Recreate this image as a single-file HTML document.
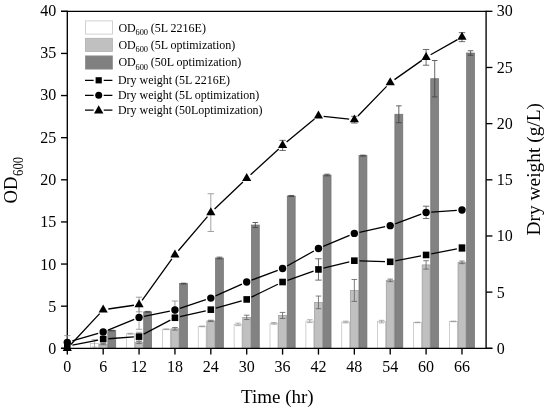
<!DOCTYPE html>
<html><head><meta charset="utf-8"><title>Chart</title>
<style>html,body{margin:0;padding:0;background:#fff}svg{display:block}text{font-family:"Liberation Serif",serif;fill:#000}</style></head><body>
<svg width="550" height="412" viewBox="0 0 550 412">
<rect width="550" height="412" fill="#fff"/>
<g>
<rect x="90.60" y="343.41" width="7.92" height="4.89" fill="#ffffff" stroke="#bcbcbc" stroke-width="0.7"/>
<path d="M94.56 339.62V347.20M91.76 339.62H97.36M91.76 347.20H97.36" stroke="#9a9a9a" stroke-width="0.80" fill="none"/>
<rect x="99.22" y="344.09" width="7.92" height="4.21" fill="#c0c0c0" stroke="#9c9c9c" stroke-width="0.7"/>
<path d="M103.18 343.41V344.76M100.38 343.41H105.98M100.38 344.76H105.98" stroke="#606060" stroke-width="0.80" fill="none"/>
<rect x="107.84" y="330.61" width="7.92" height="17.69" fill="#828282" stroke="#707070" stroke-width="0.7"/>
<path d="M111.80 330.27V330.94M109.00 330.27H114.60M109.00 330.94H114.60" stroke="#404040" stroke-width="0.80" fill="none"/>
<rect x="126.48" y="333.72" width="7.92" height="14.58" fill="#ffffff" stroke="#bcbcbc" stroke-width="0.7"/>
<path d="M130.44 333.30V334.15M127.64 333.30H133.24M127.64 334.15H133.24" stroke="#9a9a9a" stroke-width="0.80" fill="none"/>
<rect x="135.10" y="342.57" width="7.92" height="5.73" fill="#c0c0c0" stroke="#9c9c9c" stroke-width="0.7"/>
<path d="M139.06 341.56V343.58M136.26 341.56H141.86M136.26 343.58H141.86" stroke="#606060" stroke-width="0.80" fill="none"/>
<rect x="143.72" y="311.82" width="7.92" height="36.48" fill="#828282" stroke="#707070" stroke-width="0.7"/>
<path d="M147.68 311.40V312.24M144.88 311.40H150.48M144.88 312.24H150.48" stroke="#404040" stroke-width="0.80" fill="none"/>
<rect x="162.36" y="329.26" width="7.92" height="19.04" fill="#ffffff" stroke="#bcbcbc" stroke-width="0.7"/>
<path d="M166.32 328.92V329.60M163.52 328.92H169.12M163.52 329.60H169.12" stroke="#9a9a9a" stroke-width="0.80" fill="none"/>
<rect x="170.98" y="328.75" width="7.92" height="19.55" fill="#c0c0c0" stroke="#9c9c9c" stroke-width="0.7"/>
<path d="M174.94 327.49V330.02M172.14 327.49H177.74M172.14 330.02H177.74" stroke="#606060" stroke-width="0.80" fill="none"/>
<rect x="179.60" y="283.60" width="7.92" height="64.70" fill="#828282" stroke="#707070" stroke-width="0.7"/>
<path d="M183.56 283.17V284.02M180.76 283.17H186.36M180.76 284.02H186.36" stroke="#404040" stroke-width="0.80" fill="none"/>
<rect x="198.24" y="326.39" width="7.92" height="21.91" fill="#ffffff" stroke="#bcbcbc" stroke-width="0.7"/>
<path d="M202.20 326.06V326.73M199.40 326.06H205.00M199.40 326.73H205.00" stroke="#9a9a9a" stroke-width="0.80" fill="none"/>
<rect x="206.86" y="320.92" width="7.92" height="27.38" fill="#c0c0c0" stroke="#9c9c9c" stroke-width="0.7"/>
<path d="M210.82 320.24V321.59M208.02 320.24H213.62M208.02 321.59H213.62" stroke="#606060" stroke-width="0.80" fill="none"/>
<rect x="215.48" y="257.98" width="7.92" height="90.32" fill="#828282" stroke="#707070" stroke-width="0.7"/>
<path d="M219.44 257.14V258.83M216.64 257.14H222.24M216.64 258.83H222.24" stroke="#404040" stroke-width="0.80" fill="none"/>
<rect x="234.12" y="324.37" width="7.92" height="23.93" fill="#ffffff" stroke="#bcbcbc" stroke-width="0.7"/>
<path d="M238.08 323.11V325.64M235.28 323.11H240.88M235.28 325.64H240.88" stroke="#9a9a9a" stroke-width="0.80" fill="none"/>
<rect x="242.74" y="317.38" width="7.92" height="30.92" fill="#c0c0c0" stroke="#9c9c9c" stroke-width="0.7"/>
<path d="M246.70 315.19V319.57M243.90 315.19H249.50M243.90 319.57H249.50" stroke="#606060" stroke-width="0.80" fill="none"/>
<rect x="251.36" y="225.04" width="7.92" height="123.26" fill="#828282" stroke="#707070" stroke-width="0.7"/>
<path d="M255.32 222.51V227.57M252.52 222.51H258.12M252.52 227.57H258.12" stroke="#404040" stroke-width="0.80" fill="none"/>
<rect x="270.00" y="323.36" width="7.92" height="24.94" fill="#ffffff" stroke="#bcbcbc" stroke-width="0.7"/>
<path d="M273.96 322.52V324.20M271.16 322.52H276.76M271.16 324.20H276.76" stroke="#9a9a9a" stroke-width="0.80" fill="none"/>
<rect x="278.62" y="315.44" width="7.92" height="32.86" fill="#c0c0c0" stroke="#9c9c9c" stroke-width="0.7"/>
<path d="M282.58 312.41V318.48M279.78 312.41H285.38M279.78 318.48H285.38" stroke="#606060" stroke-width="0.80" fill="none"/>
<rect x="287.24" y="195.98" width="7.92" height="152.32" fill="#828282" stroke="#707070" stroke-width="0.7"/>
<path d="M291.20 195.47V196.48M288.40 195.47H294.00M288.40 196.48H294.00" stroke="#404040" stroke-width="0.80" fill="none"/>
<rect x="305.88" y="321.17" width="7.92" height="27.13" fill="#ffffff" stroke="#bcbcbc" stroke-width="0.7"/>
<path d="M309.84 319.74V322.60M307.04 319.74H312.64M307.04 322.60H312.64" stroke="#9a9a9a" stroke-width="0.80" fill="none"/>
<rect x="314.50" y="302.38" width="7.92" height="45.92" fill="#c0c0c0" stroke="#9c9c9c" stroke-width="0.7"/>
<path d="M318.46 296.06V308.70M315.66 296.06H321.26M315.66 308.70H321.26" stroke="#606060" stroke-width="0.80" fill="none"/>
<rect x="323.12" y="175.00" width="7.92" height="173.30" fill="#828282" stroke="#707070" stroke-width="0.7"/>
<path d="M327.08 174.16V175.84M324.28 174.16H329.88M324.28 175.84H329.88" stroke="#404040" stroke-width="0.80" fill="none"/>
<rect x="341.76" y="322.01" width="7.92" height="26.29" fill="#ffffff" stroke="#bcbcbc" stroke-width="0.7"/>
<path d="M345.72 321.17V322.86M342.92 321.17H348.52M342.92 322.86H348.52" stroke="#9a9a9a" stroke-width="0.80" fill="none"/>
<rect x="350.38" y="290.42" width="7.92" height="57.88" fill="#c0c0c0" stroke="#9c9c9c" stroke-width="0.7"/>
<path d="M354.34 279.47V301.37M351.54 279.47H357.14M351.54 301.37H357.14" stroke="#606060" stroke-width="0.80" fill="none"/>
<rect x="359.00" y="155.62" width="7.92" height="192.68" fill="#828282" stroke="#707070" stroke-width="0.7"/>
<path d="M362.96 155.11V156.13M360.16 155.11H365.76M360.16 156.13H365.76" stroke="#404040" stroke-width="0.80" fill="none"/>
<rect x="377.64" y="321.59" width="7.92" height="26.71" fill="#ffffff" stroke="#bcbcbc" stroke-width="0.7"/>
<path d="M381.60 320.33V322.86M378.80 320.33H384.40M378.80 322.86H384.40" stroke="#9a9a9a" stroke-width="0.80" fill="none"/>
<rect x="386.26" y="280.39" width="7.92" height="67.91" fill="#c0c0c0" stroke="#9c9c9c" stroke-width="0.7"/>
<path d="M390.22 279.13V281.66M387.42 279.13H393.02M387.42 281.66H393.02" stroke="#606060" stroke-width="0.80" fill="none"/>
<rect x="394.88" y="114.25" width="7.92" height="234.05" fill="#828282" stroke="#707070" stroke-width="0.7"/>
<path d="M398.84 105.83V122.68M396.04 105.83H401.64M396.04 122.68H401.64" stroke="#404040" stroke-width="0.80" fill="none"/>
<rect x="413.52" y="322.44" width="7.92" height="25.86" fill="#ffffff" stroke="#bcbcbc" stroke-width="0.7"/>
<path d="M417.48 322.18V322.69M414.68 322.18H420.28M414.68 322.69H420.28" stroke="#9a9a9a" stroke-width="0.80" fill="none"/>
<rect x="422.14" y="264.89" width="7.92" height="83.41" fill="#c0c0c0" stroke="#9c9c9c" stroke-width="0.7"/>
<path d="M426.10 260.68V269.10M423.30 260.68H428.90M423.30 269.10H428.90" stroke="#606060" stroke-width="0.80" fill="none"/>
<rect x="430.76" y="78.70" width="7.92" height="269.60" fill="#828282" stroke="#707070" stroke-width="0.7"/>
<path d="M434.72 60.50V96.90M431.92 60.50H437.52M431.92 96.90H437.52" stroke="#404040" stroke-width="0.80" fill="none"/>
<rect x="449.40" y="321.42" width="7.92" height="26.88" fill="#ffffff" stroke="#bcbcbc" stroke-width="0.7"/>
<path d="M453.36 321.17V321.68M450.56 321.17H456.16M450.56 321.68H456.16" stroke="#9a9a9a" stroke-width="0.80" fill="none"/>
<rect x="458.02" y="262.37" width="7.92" height="85.94" fill="#c0c0c0" stroke="#9c9c9c" stroke-width="0.7"/>
<path d="M461.98 261.10V263.63M459.18 261.10H464.78M459.18 263.63H464.78" stroke="#606060" stroke-width="0.80" fill="none"/>
<rect x="466.64" y="53.00" width="7.92" height="295.30" fill="#828282" stroke="#707070" stroke-width="0.7"/>
<path d="M470.60 50.73V55.28M467.80 50.73H473.40M467.80 55.28H473.40" stroke="#404040" stroke-width="0.80" fill="none"/>
</g>
<g stroke="#000" stroke-width="1.35" fill="none" stroke-linecap="butt">
<path d="M61.00 11.30H486.10"/>
<path d="M67.30 10.63V348.97"/>
<path d="M486.10 10.63V348.97"/>
<path d="M61.00 348.30H492.40"/>
<path d="M61.00 348.30H67.30"/>
<path d="M61.00 306.18H67.30"/>
<path d="M61.00 264.05H67.30"/>
<path d="M61.00 221.93H67.30"/>
<path d="M61.00 179.80H67.30"/>
<path d="M61.00 137.67H67.30"/>
<path d="M61.00 95.55H67.30"/>
<path d="M61.00 53.43H67.30"/>
<path d="M61.00 11.30H67.30"/>
<path d="M486.10 348.30H492.40"/>
<path d="M486.10 292.13H492.40"/>
<path d="M486.10 235.97H492.40"/>
<path d="M486.10 179.80H492.40"/>
<path d="M486.10 123.63H492.40"/>
<path d="M486.10 67.47H492.40"/>
<path d="M486.10 11.30H492.40"/>
<path d="M67.30 348.30V354.60"/>
<path d="M103.18 348.30V354.60"/>
<path d="M139.06 348.30V354.60"/>
<path d="M174.94 348.30V354.60"/>
<path d="M210.82 348.30V354.60"/>
<path d="M246.70 348.30V354.60"/>
<path d="M282.58 348.30V354.60"/>
<path d="M318.46 348.30V354.60"/>
<path d="M354.34 348.30V354.60"/>
<path d="M390.22 348.30V354.60"/>
<path d="M426.10 348.30V354.60"/>
<path d="M461.98 348.30V354.60"/>
</g>
<g font-size="16.0">
<text x="56.20" y="353.60" text-anchor="end">0</text>
<text x="56.20" y="312.28" text-anchor="end">5</text>
<text x="56.20" y="269.75" text-anchor="end">10</text>
<text x="56.20" y="227.33" text-anchor="end">15</text>
<text x="56.20" y="185.10" text-anchor="end">20</text>
<text x="56.20" y="142.87" text-anchor="end">25</text>
<text x="56.20" y="100.35" text-anchor="end">30</text>
<text x="56.20" y="58.23" text-anchor="end">35</text>
<text x="56.20" y="15.80" text-anchor="end">40</text>
<text x="496.80" y="353.70">0</text>
<text x="496.80" y="297.53">5</text>
<text x="496.80" y="241.47">10</text>
<text x="496.80" y="185.30">15</text>
<text x="496.80" y="129.03">20</text>
<text x="496.80" y="72.57">25</text>
<text x="496.80" y="15.90">30</text>
<text x="67.30" y="371.60" text-anchor="middle">0</text>
<text x="103.18" y="371.60" text-anchor="middle">6</text>
<text x="139.06" y="371.60" text-anchor="middle">12</text>
<text x="174.94" y="371.60" text-anchor="middle">18</text>
<text x="210.82" y="371.60" text-anchor="middle">24</text>
<text x="246.70" y="371.60" text-anchor="middle">30</text>
<text x="282.58" y="371.60" text-anchor="middle">36</text>
<text x="318.46" y="371.60" text-anchor="middle">42</text>
<text x="354.34" y="371.60" text-anchor="middle">48</text>
<text x="390.22" y="371.60" text-anchor="middle">54</text>
<text x="426.10" y="371.60" text-anchor="middle">60</text>
<text x="461.98" y="371.60" text-anchor="middle">66</text>
</g>
<text x="277.3" y="402.7" font-size="19.0" text-anchor="middle">Time (hr)</text>
<text transform="translate(17.0,203.4) rotate(-90)" font-size="18.6">OD</text>
<text transform="translate(23.0,175.9) rotate(-90) scale(0.93,1)" font-size="13.6">600</text>
<text transform="translate(540.1,169.2) rotate(-90)" font-size="19.4" text-anchor="middle">Dry weight (g/L)</text>
<g>
<path d="M103.18 337.40V340.77M99.98 337.40H106.38M99.98 340.77H106.38" stroke="#4a4a4a" stroke-width="0.80" fill="none"/>
<path d="M139.06 332.24V341.00M135.86 332.24H142.26M135.86 341.00H142.26" stroke="#8c8c8c" stroke-width="0.80" fill="none"/>
<path d="M318.46 258.77V280.11M315.26 258.77H321.66M315.26 280.11H321.66" stroke="#4a4a4a" stroke-width="0.80" fill="none"/>
<path d="M461.98 244.62V251.36M458.78 244.62H465.18M458.78 251.36H465.18" stroke="#4a4a4a" stroke-width="0.80" fill="none"/>
<path d="M67.30 335.61V349.09M64.10 335.61H70.50M64.10 349.09H70.50" stroke="#8c8c8c" stroke-width="0.80" fill="none"/>
<path d="M139.06 305.50V329.32M135.86 305.50H142.26M135.86 329.32H142.26" stroke="#8c8c8c" stroke-width="0.80" fill="none"/>
<path d="M174.94 301.01V318.98M171.74 301.01H178.14M171.74 318.98H178.14" stroke="#8c8c8c" stroke-width="0.80" fill="none"/>
<path d="M426.10 206.20V218.56M422.90 206.20H429.30M422.90 218.56H429.30" stroke="#4a4a4a" stroke-width="0.80" fill="none"/>
<path d="M139.06 297.19V311.79M135.86 297.19H142.26M135.86 311.79H142.26" stroke="#8c8c8c" stroke-width="0.80" fill="none"/>
<path d="M210.82 193.73V231.47M207.62 193.73H214.02M207.62 231.47H214.02" stroke="#8c8c8c" stroke-width="0.80" fill="none"/>
<path d="M282.58 140.37V150.48M279.38 140.37H285.78M279.38 150.48H285.78" stroke="#4a4a4a" stroke-width="0.80" fill="none"/>
<path d="M354.34 116.33V123.07M351.14 116.33H357.54M351.14 123.07H357.54" stroke="#4a4a4a" stroke-width="0.80" fill="none"/>
<path d="M426.10 49.49V65.22M422.90 49.49H429.30M422.90 65.22H429.30" stroke="#4a4a4a" stroke-width="0.80" fill="none"/>
<path d="M461.98 32.64V41.63M458.78 32.64H465.18M458.78 41.63H465.18" stroke="#4a4a4a" stroke-width="0.80" fill="none"/>
</g>
<path d="M72.40 345.16L98.08 340.09M108.37 338.73L133.87 336.97M143.66 334.20L170.34 320.17M180.01 316.60L205.75 310.80M215.82 308.23L241.70 300.86M251.38 297.16L277.90 284.29M287.49 280.30L313.55 271.16M323.51 268.21L349.29 261.91M359.54 260.84L385.02 261.64M395.33 260.83L420.99 255.93M431.20 253.96L456.88 248.98" stroke="#000" stroke-width="1.3" fill="none"/>
<path d="M72.30 340.91L98.18 333.45M108.00 330.05L134.24 319.37M144.15 316.36L169.85 311.05M179.88 308.36L205.88 299.72M215.57 295.96L241.95 284.15M251.57 280.19L277.71 270.37M287.12 266.00L313.92 250.98M323.26 246.42L349.54 235.39M359.42 232.28L385.14 226.73M395.10 223.83L421.22 214.18M431.29 212.04L456.79 210.36" stroke="#000" stroke-width="1.3" fill="none"/>
<path d="M70.84 344.49L99.64 313.58M108.32 309.01L133.92 305.25M142.10 300.27L171.90 258.94M178.31 250.77L207.45 216.56M214.58 209.01L242.94 181.93M250.53 174.82L278.75 148.94M286.59 142.11L314.45 119.08M323.63 116.34L349.17 119.14M357.96 115.97L386.60 86.37M394.47 79.64L421.85 60.35M430.63 54.80L457.45 39.69" stroke="#000" stroke-width="1.3" fill="none"/>
<rect x="64.00" y="342.87" width="6.60" height="6.60" fill="#000"/>
<rect x="99.88" y="335.79" width="6.60" height="6.60" fill="#000"/>
<rect x="135.76" y="333.32" width="6.60" height="6.60" fill="#000"/>
<rect x="171.64" y="314.45" width="6.60" height="6.60" fill="#000"/>
<rect x="207.52" y="306.36" width="6.60" height="6.60" fill="#000"/>
<rect x="243.40" y="296.13" width="6.60" height="6.60" fill="#000"/>
<rect x="279.28" y="278.72" width="6.60" height="6.60" fill="#000"/>
<rect x="315.16" y="266.14" width="6.60" height="6.60" fill="#000"/>
<rect x="351.04" y="257.38" width="6.60" height="6.60" fill="#000"/>
<rect x="386.92" y="258.50" width="6.60" height="6.60" fill="#000"/>
<rect x="422.80" y="251.65" width="6.60" height="6.60" fill="#000"/>
<rect x="458.68" y="244.69" width="6.60" height="6.60" fill="#000"/>
<circle cx="67.30" cy="342.35" r="3.70" fill="#000"/>
<circle cx="103.18" cy="332.01" r="3.70" fill="#000"/>
<circle cx="139.06" cy="317.41" r="3.70" fill="#000"/>
<circle cx="174.94" cy="309.99" r="3.70" fill="#000"/>
<circle cx="210.82" cy="298.09" r="3.70" fill="#000"/>
<circle cx="246.70" cy="282.02" r="3.70" fill="#000"/>
<circle cx="282.58" cy="268.54" r="3.70" fill="#000"/>
<circle cx="318.46" cy="248.44" r="3.70" fill="#000"/>
<circle cx="354.34" cy="233.38" r="3.70" fill="#000"/>
<circle cx="390.22" cy="225.63" r="3.70" fill="#000"/>
<circle cx="426.10" cy="212.38" r="3.70" fill="#000"/>
<circle cx="461.98" cy="210.02" r="3.70" fill="#000"/>
<path d="M67.30 342.99L71.90 350.96L62.70 350.96Z" fill="#000"/>
<path d="M103.18 304.46L107.78 312.43L98.58 312.43Z" fill="#000"/>
<path d="M139.06 299.18L143.66 307.15L134.46 307.15Z" fill="#000"/>
<path d="M174.94 249.41L179.54 257.38L170.34 257.38Z" fill="#000"/>
<path d="M210.82 207.29L215.42 215.26L206.22 215.26Z" fill="#000"/>
<path d="M246.70 173.03L251.30 181.00L242.10 181.00Z" fill="#000"/>
<path d="M282.58 140.11L287.18 148.08L277.98 148.08Z" fill="#000"/>
<path d="M318.46 110.46L323.06 118.43L313.86 118.43Z" fill="#000"/>
<path d="M354.34 114.39L358.94 122.36L349.74 122.36Z" fill="#000"/>
<path d="M390.22 77.32L394.82 85.29L385.62 85.29Z" fill="#000"/>
<path d="M426.10 52.05L430.70 60.01L421.50 60.01Z" fill="#000"/>
<path d="M461.98 31.83L466.58 39.79L457.38 39.79Z" fill="#000"/>
<g>
<rect x="85.4" y="20.90" width="27" height="13.2" fill="#ffffff" stroke="#c6c6c6" stroke-width="0.8"/>
<rect x="85.4" y="38.30" width="27" height="13.2" fill="#c0c0c0" stroke="#b0b0b0" stroke-width="0.8"/>
<rect x="85.4" y="55.90" width="27" height="13.2" fill="#808080" stroke="#8e8e8e" stroke-width="0.8"/>
<text x="118.4" y="31.60" font-size="12.0">OD</text>
<text transform="translate(135.45,34.90) scale(0.915,1)" font-size="9.2">600</text>
<text x="147.7" y="31.60" font-size="12.0" xml:space="preserve"> (5L 2216E)</text>
<text x="118.4" y="48.90" font-size="12.0">OD</text>
<text transform="translate(135.45,52.20) scale(0.915,1)" font-size="9.2">600</text>
<text x="147.7" y="48.90" font-size="12.0" xml:space="preserve"> (5L optimization)</text>
<text x="118.4" y="66.20" font-size="12.0">OD</text>
<text transform="translate(135.45,69.50) scale(0.915,1)" font-size="9.2">600</text>
<text x="147.7" y="66.20" font-size="12.0" xml:space="preserve"> (50L optimization)</text>
<path d="M85 80.30H93.6M103.7 80.30H112.4" stroke="#000" stroke-width="1.3"/>
<text x="118.0" y="83.90" font-size="11.95">Dry weight (5L 2216E)</text>
<path d="M85 95.30H93.6M103.7 95.30H112.4" stroke="#000" stroke-width="1.3"/>
<text x="118.0" y="98.90" font-size="11.95">Dry weight (5L optimization)</text>
<path d="M85 110.20H93.6M103.7 110.20H112.4" stroke="#000" stroke-width="1.3"/>
<text x="118.0" y="113.80" font-size="11.95">Dry weight (50Loptimization)</text>
<rect x="95.60" y="77.20" width="6.20" height="6.20" fill="#000"/>
<circle cx="98.70" cy="95.30" r="3.50" fill="#000"/>
<path d="M98.70 105.37L103.40 113.51L94.00 113.51Z" fill="#000"/>
</g>
</svg></body></html>
